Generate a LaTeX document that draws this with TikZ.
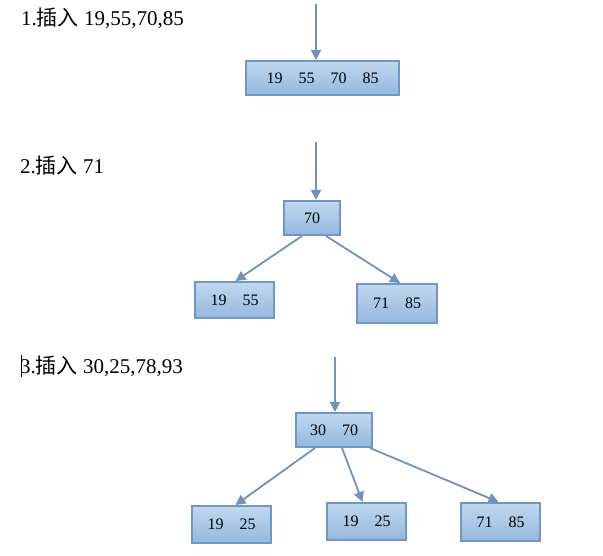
\documentclass[tikz,border=0pt]{standalone}
\usepackage{fontspec}
\setmainfont{Liberation Serif}
\newfontfamily\cjk{Noto Sans CJK SC}
\usetikzlibrary{arrows.meta}
\definecolor{bord}{HTML}{7198C2}
\definecolor{topc}{HTML}{C0D8F0}
\definecolor{botc}{HTML}{94B8DE}
\definecolor{arr}{HTML}{6E93BC}
\tikzset{
  bx/.style={draw=bord,line width=2pt,top color=topc,bottom color=botc,inner sep=0pt,font=\fontsize{16}{18}\selectfont},
  ar/.style={draw=arr,line width=1.8pt,-{Triangle[length=10pt,width=10pt]}},
  lbl/.style={anchor=west,font=\fontsize{21}{24}\selectfont,inner sep=0pt}
}
\begin{document}
\begin{tikzpicture}[x=1pt,y=-1pt]
\useasboundingbox (0,0) rectangle (603,556);
\node[lbl] (l1) at (21,18) {1.{\cjk 插入} 19,55,70,85};
\node[lbl] (l2) at (20,166) {2.{\cjk 插入} 71};
\node[lbl] (l3) at (20,366) {3.{\cjk 插入} 30,25,78,93};
\draw[line width=0.8pt] (21,355)--(21,377);
\coordinate (s1) at (316,4);
\coordinate (s2) at (316,142);
\coordinate (s3) at (335,357);
\node[bx,minimum width=153,minimum height=34] (a) at (322.5,78) {19\hspace{16pt}55\hspace{16pt}70\hspace{16pt}85};
\node[bx,minimum width=56,minimum height=34] (b) at (312,218) {70};
\node[bx,minimum width=79,minimum height=36] (c) at (234.5,300) {19\hspace{16pt}55};
\node[bx,minimum width=80,minimum height=39] (d) at (397,303.5) {71\hspace{16pt}85};
\node[bx,minimum width=76,minimum height=34] (e) at (334,430) {30\hspace{16pt}70};
\node[bx,minimum width=79,minimum height=37] (f) at (231.5,524.5) {19\hspace{16pt}25};
\node[bx,minimum width=79,minimum height=37] (g) at (366.5,521.5) {19\hspace{16pt}25};
\node[bx,minimum width=79,minimum height=38] (h) at (500.5,522) {71\hspace{16pt}85};
\draw[ar] (s1) -- (a.north -| s1);
\draw[ar] (s2) -- (b.north -| s2);
\draw[ar] (s3) -- (e.north -| s3);
\draw[ar] ([xshift=-10pt]b.south) -- ([xshift=1pt]c.north);
\draw[ar] ([xshift=14pt]b.south) -- ([xshift=3pt]d.north);
\draw[ar] ([xshift=-19pt]e.south) -- ([xshift=4pt]f.north);
\draw[ar] ([xshift=8pt]e.south) -- ([xshift=-4pt]g.north);
\draw[ar] ([xshift=36pt]e.south) -- ([xshift=-2pt]h.north);
\end{tikzpicture}
\end{document}
